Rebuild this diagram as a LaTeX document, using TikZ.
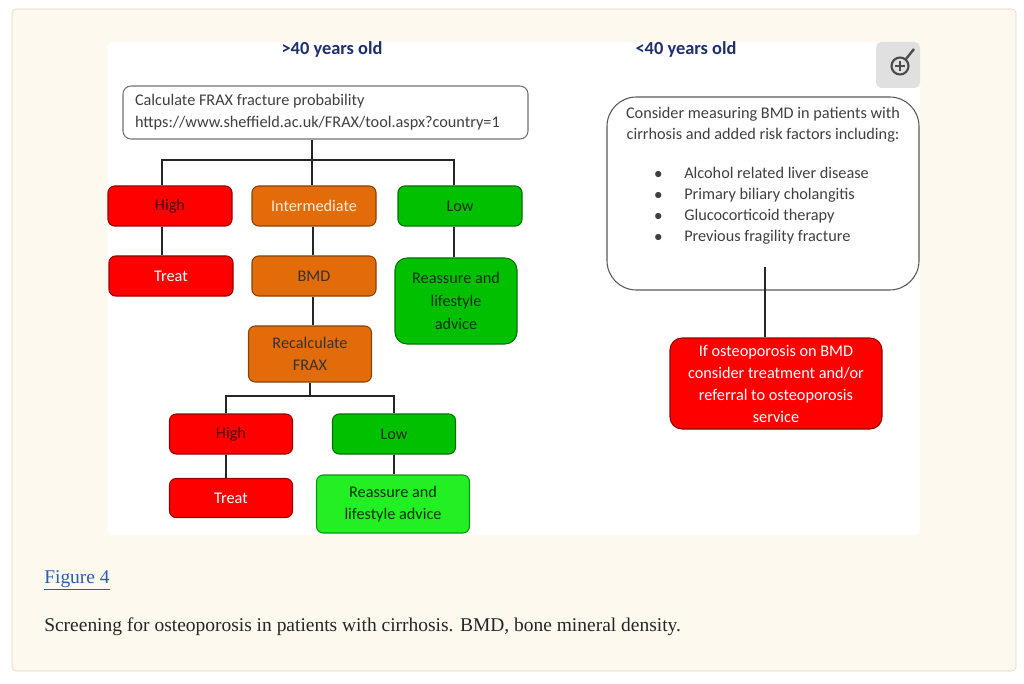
\documentclass[tikz,border=0pt]{standalone}
\usepackage{fontspec}
\setmainfont{Carlito}
\newfontfamily\capfont{Liberation Serif}
\usetikzlibrary{positioning}
\definecolor{bgc}{HTML}{FDF9EE}
\definecolor{bdc}{HTML}{E6D3C6}
\definecolor{redc}{HTML}{FF0000}
\definecolor{orc}{HTML}{E36C0A}
\definecolor{grc}{HTML}{00C000}
\definecolor{brc}{HTML}{22F022}
\definecolor{navy}{HTML}{1F2F6B}
\definecolor{txt}{HTML}{404040}
\definecolor{linkc}{HTML}{2A5DB0}
\begin{document}
\begin{tikzpicture}[x=0.75pt,y=-0.75pt,
  box/.style={draw=#1!60!black,fill=#1,rounded corners=5pt,line width=0.8pt,align=center,inner sep=1pt,font=\fontsize{12.2}{17}\selectfont},
  ln/.style={line width=1pt,black!85}]
\useasboundingbox (0,0) rectangle (1024,684);
\fill[white] (0,0) rectangle (1024,684);
\draw[bdc,fill=bgc,rounded corners=3pt] (12,9) rectangle (1016,671);
\fill[white,rounded corners=4pt] (107,42) rectangle (920,535);
% zoom icon
\fill[black!12,rounded corners=4pt] (876,42) rectangle (920,88);
\draw[black!70,line width=1.6pt] (900,66) circle (8.5);
\draw[black!70,line width=1.4pt] (895,66)--(905,66) (900,61)--(900,71);
\draw[black!70,line width=1.8pt] (906,59)--(914,49);
\node[font=\bfseries\fontsize{13.8}{16}\selectfont,text=navy] (h1) at (332,49) {>40 years old};
\node[font=\bfseries\fontsize{13.8}{16}\selectfont,text=navy] (h2) at (686,49) {<40 years old};
% left tree
\node[draw=black!55,rounded corners=6pt,minimum width=405*0.75pt,minimum height=53*0.75pt,text width=381*0.75pt,inner xsep=12*0.75pt,align=flush left,text=txt,font=\fontsize{12.2}{16.5}\selectfont,line width=0.8pt] (frax) at (325.5,112.5) {Calculate FRAX fracture probability\\https://www.sheffield.ac.uk/FRAX/tool.aspx?country=1};
\node[box=redc,minimum width=124*0.75pt,minimum height=40*0.75pt,text=black!70!red] (high) at (170,206) {High};
\node[box=orc,minimum width=124*0.75pt,minimum height=40*0.75pt,text=white!85!orange] (inter) at (314,206) {Intermediate};
\node[box=grc,minimum width=124*0.75pt,minimum height=40*0.75pt,text=black!80!green] (low) at (460,206) {Low};
\node[box=redc,minimum width=124*0.75pt,minimum height=40*0.75pt,text=white] (treat) at (171,276) {Treat};
\node[box=orc,minimum width=124*0.75pt,minimum height=40*0.75pt,text=black!80] (bmd) at (314,276) {BMD};
\node[box=grc,minimum width=122*0.75pt,minimum height=86*0.75pt,text=black!80!green,rounded corners=9pt] (reas) at (456,301) {Reassure and\\lifestyle\\advice};
\node[box=orc,minimum width=123*0.75pt,minimum height=56*0.75pt,text=black!80] (recalc) at (310,354) {Recalculate\\FRAX};
\node[box=redc,minimum width=123*0.75pt,minimum height=40*0.75pt,text=black!70!red] (high2) at (231,434) {High};
\node[box=grc,minimum width=123*0.75pt,minimum height=40*0.75pt,text=black!80!green] (low2) at (394,434) {Low};
\node[box=redc,minimum width=123*0.75pt,minimum height=39*0.75pt,text=white] (treat2) at (231,498) {Treat};
\node[box=brc,minimum width=153*0.75pt,minimum height=58*0.75pt,text=black!80!green,font=\fontsize{12.2}{16.5}\selectfont] (reas2) at (393,504) {Reassure and\\lifestyle advice};
\coordinate (j1) at (312,160);
\draw[ln] (frax.south -| j1) -- (j1);
\draw[ln] (high.north -| 162,0) -- (162,160) -- (454,160) -- (low.north -| 454,0);
\draw[ln] (j1) -- (inter.north -| j1);
\draw[ln] (high.south -| 162,0) -- (treat.north -| 162,0);
\draw[ln] (inter.south -| 313,0) -- (bmd.north -| 313,0);
\draw[ln] (bmd.south -| 313,0) -- (recalc.north -| 313,0);
\draw[ln] (low.south -| 454,0) -- (reas.north -| 454,0);
\draw[ln] (recalc.south -| 310,0) -- (310,396);
\draw[ln] (high2.north -| 226,0) -- (226,396) -- (394,396) -- (low2.north -| 394,0);
\draw[ln] (high2.south -| 226,0) -- (treat2.north -| 226,0);
\draw[ln] (low2.south -| 394,0) -- (reas2.north -| 394,0);
% right
\node[draw=black!65,rounded corners=22pt,minimum width=312*0.75pt,minimum height=193*0.75pt,line width=0.8pt] (cons) at (763,193.5) {};
\node[align=center,text=txt,font=\fontsize{12.2}{16}\selectfont] (ct) at (763,125) {Consider measuring BMD in patients with\\cirrhosis and added risk factors including:};
\node[align=left,text=txt,font=\fontsize{12.2}{15.7}\selectfont,anchor=north west,inner sep=0pt] (bl) at (654,167) {%
\makebox[22.5pt][l]{$\bullet$}Alcohol related liver disease\\
\makebox[22.5pt][l]{$\bullet$}Primary biliary cholangitis\\
\makebox[22.5pt][l]{$\bullet$}Glucocorticoid therapy\\
\makebox[22.5pt][l]{$\bullet$}Previous fragility fracture};
\node[box=redc,minimum width=212*0.75pt,minimum height=91*0.75pt,text=white,rounded corners=9pt,font=\fontsize{12.2}{16.5}\selectfont] (osteo) at (776,383.5) {If osteoporosis on BMD\\consider treatment and/or\\referral to osteoporosis\\service};
\coordinate (cs) at (765,267);
\draw[ln] (cs) -- (osteo.north -| cs);
% caption
\node[anchor=base west,font=\capfont\fontsize{14.6}{17}\selectfont,text=linkc,inner sep=0pt] (fig) at (44,583) {\underline{Figure 4}};
\node[anchor=base west,font=\capfont\fontsize{14.6}{17}\selectfont,text=black!85,inner sep=0pt] (cap) at (44,631) {Screening for osteoporosis in patients with cirrhosis. BMD, bone mineral density.};
\end{tikzpicture}
\end{document}
